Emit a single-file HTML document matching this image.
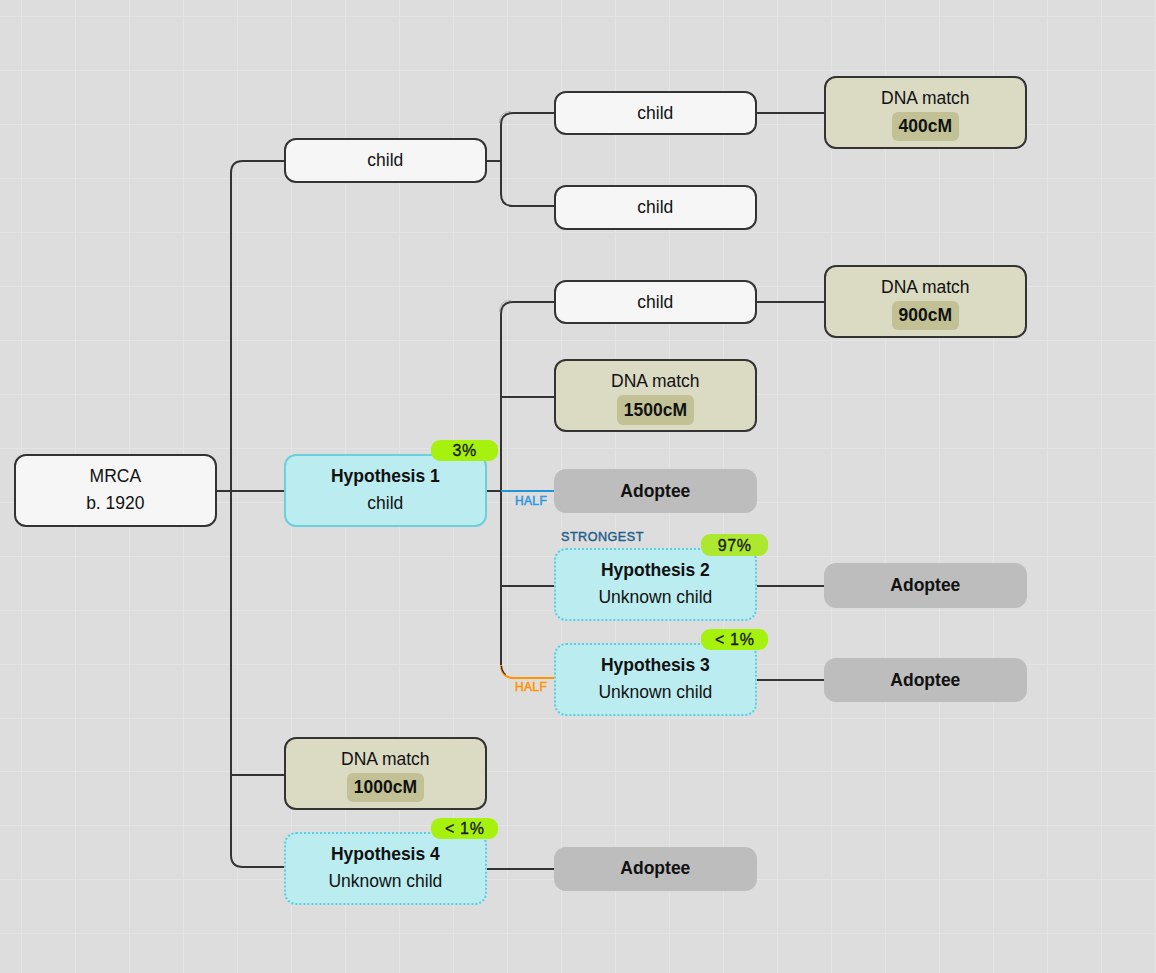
<!DOCTYPE html>
<html><head><meta charset="utf-8">
<style>
html,body{margin:0;padding:0;}
body{width:1156px;height:973px;overflow:hidden;position:relative;font-family:"Liberation Sans",sans-serif;background:#dddddd;}
svg{position:absolute;left:0;top:0;}
.b{position:absolute;box-sizing:border-box;width:202.5px;border:2px solid #333;border-radius:12px;background:#f6f6f6;font-size:17.5px;color:#111;text-align:center;}
.s{height:44.55px;line-height:40.55px;}
.t{height:73px;line-height:27px;padding-top:7.1px;}
.d{background:#dbdac3;line-height:22px;padding-top:8.69px;}
.h{background:#bbecf0;border-color:#5ac8d8;}
.hd{border-style:dotted;border-color:#62cadb;}
.a{background:#bdbdbd;border-color:#bdbdbd;font-weight:bold;}
.bold{font-weight:bold;}
.tag{display:block;width:fit-content;margin:3.5px auto 0;background:#c2c196;border-radius:6px;font-weight:bold;padding:0 7px;height:29.3px;line-height:28.5px;}
.badge{position:absolute;width:67px;height:21.2px;border-radius:9px;background:#a6f20e;color:#1a1a1a;font-size:16px;line-height:21.2px;text-align:center;letter-spacing:0.7px;text-indent:0.7px;-webkit-text-stroke:0.35px #1a1a1a;}
.lbl{position:absolute;font-weight:normal;-webkit-text-stroke:0.45px currentColor;line-height:14px;white-space:nowrap;}
</style></head><body>
<svg width="1156" height="973" viewBox="0 0 1156 973"><g fill="#e4e4e4"><rect x="0" y="16" width="1156" height="1"/><rect x="0" y="70" width="1156" height="1"/><rect x="0" y="124" width="1156" height="1"/><rect x="0" y="178" width="1156" height="1"/><rect x="0" y="232" width="1156" height="1"/><rect x="0" y="286" width="1156" height="1"/><rect x="0" y="340" width="1156" height="1"/><rect x="0" y="394" width="1156" height="1"/><rect x="0" y="448" width="1156" height="1"/><rect x="0" y="502" width="1156" height="1"/><rect x="0" y="556" width="1156" height="1"/><rect x="0" y="610" width="1156" height="1"/><rect x="0" y="664" width="1156" height="1"/><rect x="0" y="718" width="1156" height="1"/><rect x="0" y="771" width="1156" height="1"/><rect x="0" y="825" width="1156" height="1"/><rect x="0" y="879" width="1156" height="1"/><rect x="0" y="933" width="1156" height="1"/><rect x="21" y="0" width="1" height="973"/><rect x="75" y="0" width="1" height="973"/><rect x="129" y="0" width="1" height="973"/><rect x="183" y="0" width="1" height="973"/><rect x="237" y="0" width="1" height="973"/><rect x="291" y="0" width="1" height="973"/><rect x="345" y="0" width="1" height="973"/><rect x="399" y="0" width="1" height="973"/><rect x="453" y="0" width="1" height="973"/><rect x="507" y="0" width="1" height="973"/><rect x="561" y="0" width="1" height="973"/><rect x="615" y="0" width="1" height="973"/><rect x="669" y="0" width="1" height="973"/><rect x="723" y="0" width="1" height="973"/><rect x="777" y="0" width="1" height="973"/><rect x="831" y="0" width="1" height="973"/><rect x="885" y="0" width="1" height="973"/><rect x="939" y="0" width="1" height="973"/><rect x="993" y="0" width="1" height="973"/><rect x="1047" y="0" width="1" height="973"/><rect x="1101" y="0" width="1" height="973"/><rect x="1155" y="0" width="1" height="973"/></g></svg>
<svg width="1156" height="973" viewBox="0 0 1156 973">
<g fill="none" stroke="#333" stroke-width="2">
<path d="M217 491 H284"/>
<path d="M284 161 H243 Q231 161 231 173 V855 Q231 867 243 867 H284"/>
<path d="M231 775 H284"/>
<path d="M487 161 H501"/>
<path d="M554 113 H513 Q501 113 501 125 V194 Q501 206 513 206 H554"/>
<path d="M757 113 H824"/>
<path d="M487 491 H501"/>
<path d="M554 302 H513 Q501 302 501 314 V667"/>
<path d="M501 397 H554"/>
<path d="M499.4 123 Q499.4 111.3 511 111.3" stroke-width="0.6" opacity="0.4"/>
<path d="M499.4 312 Q499.4 300.3 511 300.3" stroke-width="0.6" opacity="0.4"/>
<path d="M501 586 H554"/>
<path d="M757 302 H824"/>
<path d="M757 586 H824"/>
<path d="M757 680 H824"/>
<path d="M487 869 H554"/>
</g>
<path d="M501 491 H554" fill="none" stroke="#1f95d8" stroke-width="2"/>
<path d="M501 665 Q501 678 514 678 H554" fill="none" stroke="#ff9500" stroke-width="2"/>
<path d="M501.5 666 A11.5 11.5 0 0 0 505.6 674.6" fill="none" stroke="#333" stroke-width="1.3"/>
</svg>

<div class="b t" style="left:14.1px;top:453.9px;"><div>MRCA</div><div>b. 1920</div></div>

<div class="b s" style="left:284.1px;top:138.1px;">child</div>
<div class="b t h" style="left:284.1px;top:454.1px;border-color:#6ccfdc;"><div class="bold">Hypothesis 1</div><div>child</div></div>
<div class="b t d" style="left:284.1px;top:737px;"><div>DNA match</div><div class="tag">1000cM</div></div>
<div class="b t h hd" style="left:284.1px;top:831.9px;"><div class="bold">Hypothesis 4</div><div>Unknown child</div></div>

<div class="b s" style="left:554.1px;top:90.7px;">child</div>
<div class="b s" style="left:554.1px;top:185.2px;">child</div>
<div class="b s" style="left:554.1px;top:279.7px;">child</div>
<div class="b t d" style="left:554.1px;top:358.7px;padding-top:9.69px;"><div>DNA match</div><div class="tag" style="margin-top:2.5px;height:30.3px;line-height:30.2px;">1500cM</div></div>
<div class="b s a" style="left:554.1px;top:468.7px;">Adoptee</div>
<div class="b t h hd" style="left:554.1px;top:548px;"><div class="bold">Hypothesis 2</div><div>Unknown child</div></div>
<div class="b t h hd" style="left:554.1px;top:643.2px;"><div class="bold">Hypothesis 3</div><div>Unknown child</div></div>
<div class="b s a" style="left:554.1px;top:846.7px;line-height:39.2px;">Adoptee</div>

<div class="b t d" style="left:824.1px;top:75.9px;"><div>DNA match</div><div class="tag">400cM</div></div>
<div class="b t d" style="left:824.1px;top:264.6px;padding-top:9.69px;"><div>DNA match</div><div class="tag" style="margin-top:2.5px;">900cM</div></div>
<div class="b s a" style="left:824.1px;top:563.1px;">Adoptee</div>
<div class="b s a" style="left:824.1px;top:657.7px;">Adoptee</div>

<div class="badge" style="left:430.9px;top:439.8px;">3%</div>
<div class="badge" style="left:700.9px;top:533.9px;height:22.1px;line-height:23px;background:#ace830;">97%</div>
<div class="badge" style="left:700.9px;top:628.9px;">&lt; 1%</div>
<div class="badge" style="left:430.9px;top:817.9px;">&lt; 1%</div>

<div class="lbl" style="left:515px;top:493.6px;color:#3399db;font-size:12px;letter-spacing:0.35px;-webkit-text-stroke:0.55px #3399db;">HALF</div>
<div class="lbl" style="left:561px;top:529.5px;color:#1f5f8a;font-size:12.6px;letter-spacing:0.5px;">STRONGEST</div>
<div class="lbl" style="left:515px;top:679.6px;color:#ff9500;font-size:12px;letter-spacing:0.35px;-webkit-text-stroke:0.55px #ff9500;">HALF</div>
</body></html>
